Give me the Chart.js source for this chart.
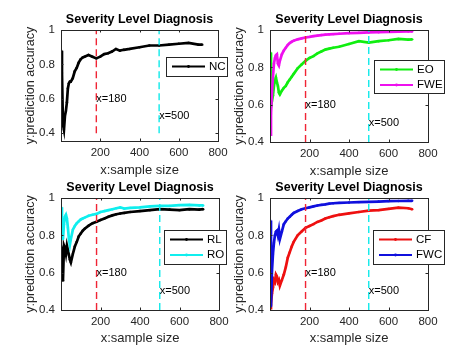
<!DOCTYPE html>
<html><head><meta charset="utf-8">
<script src="https://cdn.jsdelivr.net/npm/chart.js@4.4.0/dist/chart.umd.min.js"></script>
<style>
html,body{margin:0;padding:0;background:#fff;}
#wrap{position:relative;width:474px;height:355px;background:#fff;}
canvas{position:absolute;left:0;top:0;}
</style></head><body>
<div id="wrap">
<canvas id="c1" width="474" height="355"></canvas>
<canvas id="c2" width="474" height="355"></canvas>
<canvas id="c3" width="474" height="355"></canvas>
<canvas id="c4" width="474" height="355"></canvas>
</div>
<script>
// ---- data ----
const sampleSizes = [1,5,10,15,20,25,30,35,40,45,50,60,70,80,90,100,110,120,140,160,180,200,220,240,260,280,300,320,350,400,450,500,550,600,650,700,720];
const ncAcc  = [0.88,0.75,0.45,0.42,0.50,0.53,0.58,0.66,0.69,0.70,0.70,0.72,0.76,0.78,0.81,0.83,0.84,0.845,0.855,0.845,0.835,0.845,0.86,0.865,0.875,0.89,0.88,0.885,0.89,0.90,0.91,0.91,0.915,0.92,0.925,0.915,0.915];
const eoAcc  = [0.88,0.80,0.62,0.65,0.70,0.73,0.745,0.72,0.70,0.665,0.655,0.675,0.69,0.70,0.72,0.735,0.75,0.765,0.795,0.815,0.835,0.85,0.86,0.875,0.885,0.895,0.90,0.905,0.91,0.925,0.94,0.932,0.94,0.945,0.952,0.948,0.95];
const fweAcc = [0.44,0.55,0.67,0.75,0.82,0.85,0.865,0.87,0.82,0.81,0.835,0.87,0.89,0.905,0.92,0.93,0.937,0.943,0.95,0.955,0.96,0.963,0.967,0.97,0.973,0.975,0.977,0.978,0.98,0.983,0.985,0.987,0.988,0.99,0.991,0.992,0.992];
const rlAcc  = [0.74,0.56,0.56,0.745,0.73,0.70,0.745,0.72,0.695,0.67,0.655,0.70,0.74,0.765,0.795,0.81,0.825,0.835,0.852,0.865,0.873,0.882,0.89,0.90,0.907,0.913,0.917,0.92,0.925,0.93,0.935,0.94,0.938,0.935,0.94,0.938,0.94];
const roAcc  = [0.95,0.85,0.78,0.86,0.90,0.91,0.89,0.84,0.78,0.75,0.78,0.83,0.85,0.865,0.875,0.885,0.89,0.895,0.905,0.91,0.915,0.925,0.93,0.935,0.94,0.945,0.95,0.943,0.947,0.95,0.955,0.958,0.958,0.962,0.963,0.96,0.96];
const cfAcc  = [0.41,0.43,0.49,0.52,0.56,0.55,0.59,0.58,0.55,0.56,0.53,0.56,0.59,0.63,0.68,0.71,0.74,0.765,0.80,0.82,0.84,0.85,0.86,0.872,0.88,0.89,0.897,0.903,0.91,0.918,0.925,0.932,0.935,0.942,0.948,0.945,0.94];
const fwcAcc = [0.88,0.42,0.61,0.70,0.76,0.80,0.82,0.825,0.80,0.83,0.78,0.82,0.86,0.875,0.89,0.90,0.91,0.92,0.93,0.94,0.945,0.95,0.955,0.96,0.963,0.966,0.97,0.972,0.974,0.976,0.978,0.979,0.981,0.983,0.984,0.985,0.985];
const xTickValues = [200,400,600,800];
const yTickValues = [0.4,0.6,0.8,1];
const markerLines = [180,500];
const markerLabelY = [0.6,0.5];
const markerRange = [0.4,1];
const chartTitle = 'Severity Level Diagnosis';
const xLabel = 'x:sample size';
const yLabel = 'y:prediction accuracy';

// ---- styling / layout ----
const FONT = '"Liberation Sans", Arial, Helvetica, sans-serif';
const AX = '#262626';
const markerColors = ['#f02535', '#10eaea'];

const deco = {
  id: 'deco',
  afterDraw(chart, args, o) {
    const ctx = chart.ctx, a = chart.chartArea;
    const xs = chart.scales.x, ys = chart.scales.y;
    ctx.save();
    // box
    ctx.strokeStyle = AX; ctx.lineWidth = 1;
    ctx.strokeRect(Math.round(a.left) + 0.5, Math.round(a.top) + 0.5, Math.round(a.right - a.left), Math.round(a.bottom - a.top));
    // inward ticks
    const tl = 2.5;
    ctx.beginPath();
    xTickValues.forEach(v => {
      const px = Math.round(xs.getPixelForValue(v)) + 0.5;
      ctx.moveTo(px, a.bottom); ctx.lineTo(px, a.bottom - tl);
      ctx.moveTo(px, a.top); ctx.lineTo(px, a.top + tl);
    });
    yTickValues.forEach(v => {
      const py = Math.round(ys.getPixelForValue(v)) + 0.5;
      ctx.moveTo(a.left, py); ctx.lineTo(a.left + tl, py);
      ctx.moveTo(a.right, py); ctx.lineTo(a.right - tl, py);
    });
    ctx.stroke();
    // title
    ctx.fillStyle = '#000';
    ctx.font = 'bold 12.5px ' + FONT;
    ctx.textAlign = 'center'; ctx.textBaseline = 'middle';
    ctx.fillText(chartTitle, (a.left + a.right) / 2, a.top - 10);
    // marker labels
    ctx.font = '11px ' + FONT;
    ctx.textAlign = 'left';
    markerLines.forEach((xv, k) => {
      ctx.fillText('x=' + xv, xs.getPixelForValue(xv), ys.getPixelForValue(markerLabelY[k]));
    });
    // legend
    const L = o.legend;
    const items = chart.data.datasets.filter(d => !d.label.startsWith('_'));
    ctx.fillStyle = '#fff';
    ctx.fillRect(L.x, L.y, L.w, L.h);
    ctx.strokeStyle = AX; ctx.lineWidth = 1;
    ctx.strokeRect(L.x + 0.5, L.y + 0.5, L.w, L.h);
    items.forEach((d, i) => {
      const ry = L.y + 9.5 + i * 15.5;
      ctx.strokeStyle = d.borderColor; ctx.lineWidth = 1.8;
      ctx.beginPath(); ctx.moveTo(L.x + 6, ry); ctx.lineTo(L.x + 39, ry); ctx.stroke();
      ctx.fillStyle = d.borderColor;
      ctx.beginPath(); ctx.arc(L.x + 22.5, ry, 1.4, 0, Math.PI * 2); ctx.fill();
      ctx.fillStyle = '#000';
      ctx.font = '11.5px ' + FONT;
      ctx.textAlign = 'left'; ctx.textBaseline = 'middle';
      ctx.fillText(d.label, L.x + 43, ry);
    });
    ctx.restore();
  }
};

function makeChart(id, cfg) {
  const datasets = cfg.series.map((s, i) => ({
    label: s.label,
    data: sampleSizes.map((x, j) => ({x: x, y: s.values[j]})),
    borderColor: s.color, backgroundColor: s.color,
    borderWidth: 2.7, pointRadius: 1.2, pointHoverRadius: 0, pointBorderWidth: 0,
    pointBackgroundColor: s.color, tension: 0, order: 10 - i
  }));
  markerLines.forEach((xv, k) => datasets.push({
    label: '_ref' + xv,
    data: [{x: xv, y: markerRange[0]}, {x: xv, y: markerRange[1]}],
    borderColor: markerColors[k], borderWidth: 1.4, borderDash: [7, 4],
    pointRadius: 0, order: 1
  }));
  return new Chart(document.getElementById(id), {
    type: 'line',
    data: { datasets },
    options: {
      responsive: false, animation: false, devicePixelRatio: 1,
      layout: { padding: cfg.pad },
      plugins: { legend: { display: false }, tooltip: { enabled: false }, deco: { legend: cfg.legend } },
      scales: {
        x: {
          type: 'linear', min: 0, max: 800,
          grid: { display: false, drawTicks: false }, border: { display: false },
          afterBuildTicks: ax => { ax.ticks = xTickValues.map(v => ({value: v})); },
          afterFit: ax => { ax.height = cfg.xh; },
          ticks: { font: { family: FONT, size: 11.5 }, color: AX, padding: 5, maxRotation: 0, autoSkip: false, callback: v => String(v) },
          title: { display: true, text: xLabel, font: { family: FONT, size: 13 }, color: AX, padding: 0 }
        },
        y: {
          type: 'linear', min: cfg.ymin, max: 1,
          grid: { display: false, drawTicks: false }, border: { display: false },
          afterBuildTicks: ax => { ax.ticks = yTickValues.map(v => ({value: v})); },
          afterFit: ax => { ax.width = cfg.yw; },
          ticks: { font: { family: FONT, size: 11.5 }, color: AX, padding: 6, autoSkip: false, callback: v => String(v) },
          title: { display: true, text: yLabel, font: { family: FONT, size: 12.5 }, color: AX, padding: 0 }
        }
      }
    },
    plugins: [deco]
  });
}

makeChart('c1', {
  series: [{label: 'NC', values: ncAcc, color: '#000000'}],
  pad: {left: 23, right: 256, top: 30, bottom: 177}, yw: 38, xh: 37, ymin: 0.355,
  legend: {x: 166, y: 57, w: 61, h: 19}
});
makeChart('c2', {
  series: [{label: 'EO', values: eoAcc, color: '#10ee10'}, {label: 'FWE', values: fweAcc, color: '#ee10ee'}],
  pad: {left: 232, right: 46, top: 30, bottom: 176}, yw: 38, xh: 37, ymin: 0.4,
  legend: {x: 374, y: 60, w: 70, h: 33}
});
makeChart('c3', {
  series: [{label: 'RL', values: rlAcc, color: '#000000'}, {label: 'RO', values: roAcc, color: '#10eeee'}],
  pad: {left: 23, right: 255, top: 198, bottom: 9}, yw: 38, xh: 36, ymin: 0.4,
  legend: {x: 164, y: 230, w: 62, h: 34}
});
makeChart('c4', {
  series: [{label: 'CF', values: cfAcc, color: '#ee1010'}, {label: 'FWC', values: fwcAcc, color: '#1010dd'}],
  pad: {left: 232, right: 46, top: 198, bottom: 9}, yw: 38, xh: 36, ymin: 0.4,
  legend: {x: 373, y: 230, w: 71, h: 34}
});
</script>
</body></html>
